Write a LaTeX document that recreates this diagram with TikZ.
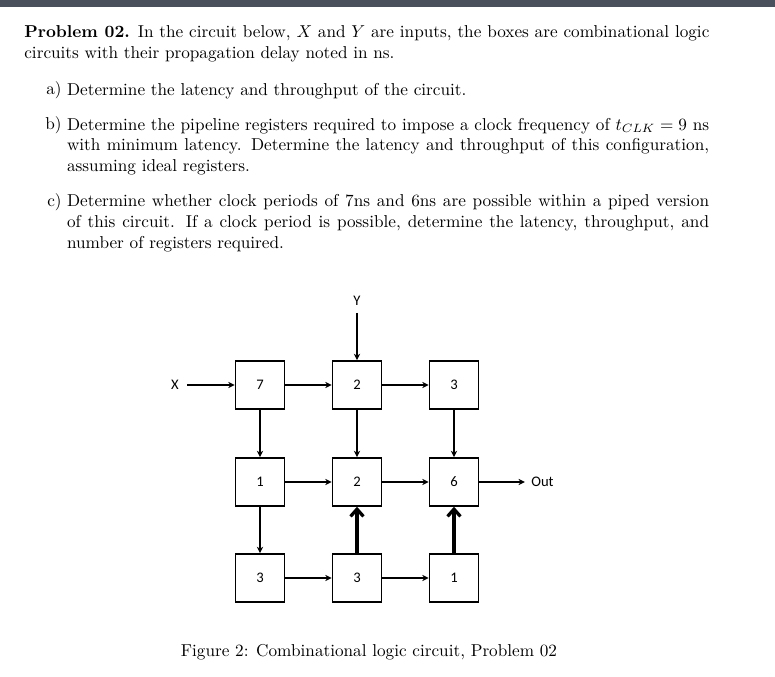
\documentclass[tikz,border=0pt]{standalone}
\usepackage{fontspec}
\newfontfamily\diagfont{Carlito}
\usetikzlibrary{arrows.meta}
\definecolor{topbar}{RGB}{74,80,92}
\tikzset{
  blk/.style={draw, line width=0.85pt, minimum width=28.5pt, minimum height=27.9pt, inner sep=0pt,
    font=\diagfont\fontsize{8.5}{10}\selectfont},
  lbl/.style={inner sep=0pt, font=\diagfont\fontsize{8.5}{10}\selectfont},
  wire/.style={line width=0.8pt, -{Stealth[length=3.8pt,width=3.6pt]}},
  fatwire/.style={line width=1.9pt, -{Straight Barb[length=4.2pt,width=7.5pt]}},
  para/.style={inner sep=0pt, anchor=north west, align=justify, font=\fontsize{10}{12}\selectfont},
  itemlbl/.style={inner sep=0pt, anchor=base east, font=\fontsize{10}{12}\selectfont}
}
\begin{document}
\begin{tikzpicture}[x=0.5814pt,y=-0.5814pt]
\useasboundingbox (0,0) rectangle (775,677);
\fill[topbar] (0,0) rectangle (775,7);

% text
\node[para, text width=398.3pt] (prob) at (24,22.9) {\strut\textbf{Problem 02.} In the circuit below, $X$ and $Y$ are inputs, the boxes are combinational logic\linebreak circuits with their propagation delay noted in ns.};

\node[itemlbl] (la) at (62,95) {a)};
\node[para, text width=373.3pt] (ta) at (66.7,80.5) {\strut Determine the latency and throughput of the circuit.};

\node[itemlbl] (lb) at (62,130) {b)};
\node[para, text width=373.3pt] (tb) at (66.7,115.5) {\strut Determine the pipeline registers required to impose a clock frequency of $t_{CLK}=9$~ns\linebreak with minimum latency.  Determine the latency and throughput of this configuration,\linebreak assuming ideal registers.};

\node[itemlbl] (lc) at (62,206.7) {c)};
\node[para, text width=373.3pt] (tc) at (66.7,192.2) {\strut Determine whether clock periods of 7ns and 6ns are possible within a piped version\linebreak of this circuit.  If a clock period is possible, determine the latency, throughput, and\linebreak number of registers required.};

% diagram
\node[blk] (b11) at (260,385) {7};
\node[blk] (b12) at (357,385) {2};
\node[blk] (b13) at (454,385) {3};
\node[blk] (b21) at (260,482) {1};
\node[blk] (b22) at (357,482) {2};
\node[blk] (b23) at (454,482) {6};
\node[blk] (b31) at (260,578) {3};
\node[blk] (b32) at (357,578) {3};
\node[blk] (b33) at (454,578) {1};

\node[lbl] (xin) at (175,385) {X};
\coordinate (xs) at (187,385);
\node[lbl] (yin) at (357,301) {Y};
\coordinate (ys) at (357,313);
\coordinate (oe) at (525,482);
\node[lbl, anchor=west] (out) at (531,482) {Out};

\draw[wire] (xs) -- (b11.west);
\draw[wire] (ys) -- (b12.north);
\draw[wire] (b23.east) -- (oe);

\draw[wire] (b11) -- (b12);
\draw[wire] (b12) -- (b13);
\draw[wire] (b21) -- (b22);
\draw[wire] (b22) -- (b23);
\draw[wire] (b31) -- (b32);
\draw[wire] (b32) -- (b33);

\draw[wire] (b11) -- (b21);
\draw[wire] (b12) -- (b22);
\draw[wire] (b13) -- (b23);
\draw[wire] (b21) -- (b31);

\draw[fatwire] (b32) -- (b22);
\draw[fatwire] (b33) -- (b23);

\node[inner sep=0pt, anchor=base, font=\fontsize{10}{12}\selectfont] (cap) at (369,656) {Figure 2: Combinational logic circuit, Problem 02};
\end{tikzpicture}
\end{document}
